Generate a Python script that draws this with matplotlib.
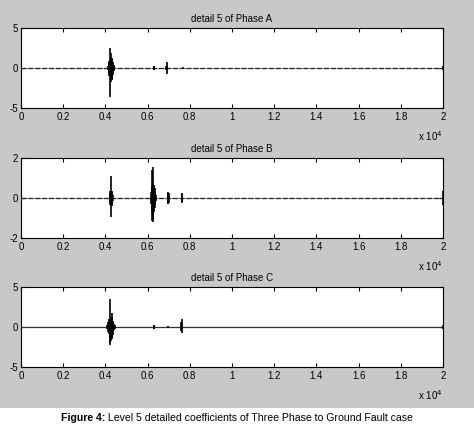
import matplotlib
matplotlib.use("Agg")
import matplotlib.pyplot as plt
from matplotlib.patches import Rectangle

plt.rcParams['font.family'] = ['Liberation Sans', 'DejaVu Sans']

# ---- data ----
titles = ["detail 5 of Phase A", "detail 5 of Phase B", "detail 5 of Phase C"]
ylims = [(-5, 5), (-2, 2), (-5, 5)]
yticks = [[-5, 0, 5], [-2, 0, 2], [-5, 0, 5]]
xticks = [0, 2000, 4000, 6000, 8000, 10000, 12000, 14000, 16000, 18000, 20000]
xticklabels = ["0", "0.2", "0.4", "0.6", "0.8", "1", "1.2", "1.4", "1.6", "1.8", "2"]
n_samples = 20000

# Phase A spikes: sample position, upper extent, lower extent
a_x  = [4110, 4150, 4190, 4230, 4250, 4270, 4300, 4330, 4360, 4390, 4420, 6280, 6320, 6880, 6900, 6920, 7660, 19980]
a_hi = [0.3, 0.6, 0.9, 2.5, 1.9, 1.0, 1.25, 1.1, 0.8, 0.4, 0.2, 0.3, 0.3, 0.3, 0.7, 0.3, 0.15, 0.3]
a_lo = [-0.3, -0.6, -1.0, -3.65, -1.7, -1.2, -1.5, -1.4, -0.9, -0.4, -0.2, -0.3, -0.3, -0.3, -0.8, -0.3, -0.15, -0.3]

# Phase B spikes
b_x  = [20, 4200, 4240, 4265, 4290, 4320, 4350, 6170, 6200, 6230, 6250, 6270, 6300, 6330, 6360, 6400, 6960, 6990, 7020, 7620, 7650, 19980]
b_hi = [0.15, 0.2, 0.35, 1.1, 0.35, 0.3, 0.15, 0.3, 0.6, 1.4, 1.55, 0.7, 0.65, 0.5, 0.3, 0.15, 0.25, 0.3, 0.25, 0.25, 0.2, 0.35]
b_lo = [-0.15, -0.2, -0.35, -0.93, -0.4, -0.3, -0.15, -0.3, -0.7, -1.15, -1.18, -1.1, -0.7, -0.5, -0.3, -0.15, -0.25, -0.3, -0.25, -0.25, -0.2, -0.35]

# Phase C spikes
c_x  = [20, 4060, 4110, 4160, 4200, 4235, 4260, 4290, 4310, 4340, 4380, 4420, 4460, 6280, 6320, 6980, 7590, 7620, 7650, 19980]
c_hi = [0.3, 0.3, 0.6, 1.0, 0.9, 3.55, 1.0, 1.2, 1.8, 0.8, 0.5, 0.4, 0.2, 0.2, 0.2, 0.1, 0.6, 0.95, 0.4, 0.3]
c_lo = [-0.3, -0.3, -0.6, -0.9, -2.0, -2.2, -1.7, -1.5, -1.4, -1.0, -0.5, -0.4, -0.2, -0.2, -0.2, -0.1, -0.5, -0.8, -0.3, -0.3]

spikes = [(a_x, a_hi, a_lo), (b_x, b_hi, b_lo), (c_x, c_hi, c_lo)]
baseline_dashed = [True, True, False]

# ---- figure ----
W, H = 474, 424
fig = plt.figure(figsize=(W / 100, H / 100), dpi=100)
fig.patch.set_facecolor('white')
fig.patches.append(Rectangle((0, 16 / H), 1, 1 - 16 / H, transform=fig.transFigure,
                             facecolor='#c8c8c8', edgecolor='none', zorder=-10))

ax_tops = [28, 158, 287]
ax_h = 80
left, right = 21, 443

for i in range(3):
    top = ax_tops[i]
    ax = fig.add_axes([left / W, 1 - (top + ax_h) / H, (right - left) / W, ax_h / H])
    ax.set_facecolor('white')
    xs, hi, lo = spikes[i]
    if baseline_dashed[i]:
        ax.plot([0, n_samples], [0, 0], color='#999999', lw=0.8, zorder=1)
        ax.plot([0, n_samples], [0, 0], color='#222222', lw=0.9, dashes=(4, 1.5), zorder=2)
    else:
        ax.plot([0, n_samples], [0, 0], color='#333333', lw=0.9, zorder=2)
    ax.vlines(xs, lo, hi, color='black', lw=1.2, zorder=3)
    ax.set_xlim(0, n_samples)
    ax.set_ylim(*ylims[i])
    ax.set_xticks(xticks)
    ax.set_xticklabels(xticklabels)
    ax.set_yticks(yticks[i])
    ax.set_yticklabels([str(v) for v in yticks[i]])
    ax.tick_params(direction='in', length=3, width=0.8, top=True, right=True,
                   labelsize=7, pad=3, colors='black')
    ax.tick_params(axis='y', pad=2)
    for s in ax.spines.values():
        s.set_linewidth(0.8)
        s.set_color('black')
    ax.set_title(titles[i], fontsize=7, pad=4)
    ax.text(1.0, -0.35, r'x 10$^4$', transform=ax.transAxes, ha='right', va='center',
            fontsize=7)

# caption with bold prefix
renderer = fig.canvas.get_renderer()
cap_y = 1 - 418 / H
t1 = fig.text(0, cap_y, "Figure 4:", fontsize=7.6, fontweight='bold', va='center')
t2 = fig.text(0, cap_y, " Level 5 detailed coefficients of Three Phase to Ground Fault case",
              fontsize=7.6, va='center')
w1 = t1.get_window_extent(renderer).width
w2 = t2.get_window_extent(renderer).width
x0 = (W - (w1 + w2)) / 2
t1.set_x(x0 / W)
t2.set_x((x0 + w1) / W)

fig.savefig('out.png', dpi=100, facecolor=fig.get_facecolor())
